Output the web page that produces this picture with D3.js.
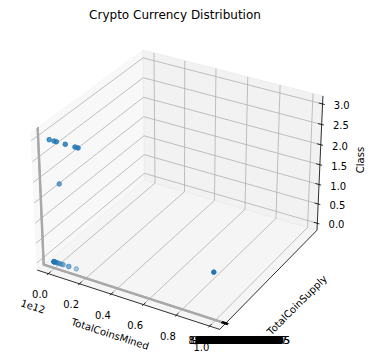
<!DOCTYPE html>
<html><head><meta charset="utf-8">
<script src="https://cdn.jsdelivr.net/npm/d3@7"></script>
<style>body{margin:0;background:#fff} svg{display:block} text{font-family:"DejaVu Sans",sans-serif;fill:#000}</style>
</head><body><svg id="c" width="380" height="356"></svg>
<script>
const title = "Crypto Currency Distribution";
const xLabel = "TotalCoinsMined", yLabel = "TotalCoinSupply", zLabel = "Class";
const xOffsetText = "1e12";

// data (TotalCoinsMined in units of 1e12)
const coinsMined = [0.002,0.032,0.047,0.102,0.162,0.181,
  0.055,
  0,0,0,0,0.001,0.002,0.004,0.006,0.01,0.015,0.02,0.027,0.035,0.045,0.055,0.062,0.096,0.097,0.145,
  0.99];
const coinSupply = [0,0,0,0,0,0,
  0,
  0,0,0,0,0,0,0,0,0,0,0,0,0,0,0,0,0,0,0,
  0];
const classes = [3,3,3,3,3,3,
  2,
  0,0,0,0,0,0,0,0,0,0,0,0,0,0,0,0,0,0,0,
  1];

const xTicks = [0,0.2,0.4,0.6,0.8,1.0];
const xTickLabels = ["0.0","0.2","0.4","0.6","0.8","1.0"];
const yTicks = [0,0.002,0.004,0.006,0.008,0.010,0.012];
const yTickLabels = ["0","42","1000","21000000","84000000","144000000","250000000","1000000000",
  "2147483647","21000000000","92233720368","184467440735","314159265359","1000000000000",
  "2500124000000","90000000000000","922337203685477","1844674407370955","8800000000000005",
  "3000000000.000","1420609614.000","5060000000.000","1000000000.000","4000000000.000",
  "2419200000.000","1600000000.000","3360000000.000","6000000000.000","9507271000.000",
  "7506000000.000","8000000000.000","2100000000.000","1350000000.000","4380000000.000",
  "268435456.0000","500000000.0000","640000000.0000","999481516.0000","888888888.0000",
  "9736000000.00","5121951220.00","2300000000.00","3853326.77707","18898187.6216"];
const zTicks = [0,0.5,1,1.5,2,2.5,3];
const zTickLabels = ["0.0","0.5","1.0","1.5","2.0","2.5","3.0"];

const sx = d3.scaleLinear().domain([-0.0723,1.0596]).range([0,1]);
const sy = d3.scaleLinear().domain([-0.05,0.95]).range([0,1]);
const sz = d3.scaleLinear().domain([-0.1816,3.194]).range([0,1]);

// camera: elev 30, azim -60, perspective
const el = 30*Math.PI/180, az = -60*Math.PI/180;
const boxA = [4,4,3];
const nrm = Math.hypot(...boxA);
const A = boxA.map(v=>v/nrm*1.8294640721620434);
const dot=(a,b)=>a[0]*b[0]+a[1]*b[1]+a[2]*b[2];
const cross=(a,b)=>[a[1]*b[2]-a[2]*b[1],a[2]*b[0]-a[0]*b[2],a[0]*b[1]-a[1]*b[0]];
const W=[Math.cos(el)*Math.cos(az),Math.cos(el)*Math.sin(az),Math.sin(el)];
let U=cross([0,0,1],W); const un=Math.hypot(...U); U=U.map(v=>v/un);
const V=cross(W,U);
const K=1830, CX=179.6, CY=183.3, DIST=10;
function projT(tx,ty,tz){
  const q=[(tx-0.5)*A[0],(ty-0.5)*A[1],(tz-0.5)*A[2]];
  const d=DIST-dot(W,q);
  return [CX+K*dot(U,q)/d, CY-K*dot(V,q)/d, dot(W,q)];
}
const P=(x,y,z)=>projT(sx(x),sy(y),sz(z));

const svg=d3.select("#c");
const line=d3.line();
const pts=arr=>arr.map(p=>projT(...p).slice(0,2));

// panes
const panes=[
  {c:[[0,0,0],[0,1,0],[0,1,1],[0,0,1]], f:"rgba(242,242,242,0.5)"},
  {c:[[0,1,0],[1,1,0],[1,1,1],[0,1,1]], f:"rgba(230,230,230,0.5)"},
  {c:[[0,0,0],[1,0,0],[1,1,0],[0,1,0]], f:"rgba(236,236,236,0.5)"}
];
svg.selectAll("path.pane").data(panes).join("path").attr("class","pane")
  .attr("d",d=>line(pts(d.c))+"Z").attr("fill",d=>d.f).attr("stroke",d=>d.f).attr("stroke-width",1);

const g=svg.append("g").attr("fill","none").attr("stroke","#b0b0b0").attr("stroke-width",0.8);
// x grid
xTicks.forEach(x=>{const t=sx(x); g.append("path").attr("d",line(pts([[t,0,0],[t,1,0],[t,1,1]])));});
// z grid
zTicks.forEach(z=>{const t=sz(z); g.append("path").attr("d",line(pts([[0,0,t],[0,1,t],[1,1,t]])));});
// y grid (bunched)
const gy=svg.append("g").attr("fill","none").attr("stroke","#a8a8a8").attr("stroke-width",0.9);
yTicks.forEach(y=>{const t=sy(y); gy.append("path").attr("d",line(pts([[1,t,0],[0,t,0],[0,t,1]])));});

// axis lines
const ax=svg.append("g").attr("fill","none").attr("stroke","#000").attr("stroke-width",0.8);
ax.append("path").attr("d",line(pts([[0,0,0],[1,0,0]])));
ax.append("path").attr("d",line(pts([[1,0,0],[1,1,0]])));
ax.append("path").attr("d",line(pts([[1,1,0],[1,1,1]])));
// ticks
xTicks.forEach(x=>{const t=sx(x); ax.append("path").attr("d",line(pts([[t,-0.012,0],[t,0.02,0]])));});
yTicks.forEach(y=>{const t=sy(y); ax.append("path").attr("d",line(pts([[1.012,t,0],[0.98,t,0]])));});
zTicks.forEach(z=>{const t=sz(z); ax.append("path").attr("d",line(pts([[1.012,1,t],[0.98,1,t]])));});

// tick labels
xTicks.forEach((x,i)=>{const p=projT(sx(x),0,0);
  svg.append("text").attr("x",p[0]-8.3).attr("y",p[1]+21).attr("text-anchor","middle")
   .attr("dominant-baseline","central").attr("font-size",10).text(xTickLabels[i]);});
const yp=projT(1,sy(yTicks[0]),0);
yTickLabels.forEach(s=>{
  svg.append("text").attr("x",yp[0]+14.3).attr("y",yp[1]+16).attr("text-anchor","middle")
   .attr("dominant-baseline","central").attr("font-size",10).text(s);});
zTicks.forEach((z,i)=>{const p=projT(1,1,sz(z));
  svg.append("text").attr("x",p[0]+19.2).attr("y",p[1]+1.5).attr("text-anchor","middle")
   .attr("dominant-baseline","central").attr("font-size",10).text(zTickLabels[i]);});

// axis labels
svg.append("text").attr("transform","translate(33,306.5) rotate(18)").attr("text-anchor","middle")
  .attr("dominant-baseline","central").attr("font-size",10).text(xOffsetText);
svg.append("text").attr("transform","translate(110,334) rotate(18)").attr("text-anchor","middle")
  .attr("dominant-baseline","central").attr("font-size",10).text(xLabel);
svg.append("text").attr("transform","translate(297,305) rotate(-45)").attr("text-anchor","middle")
  .attr("dominant-baseline","central").attr("font-size",10).text(yLabel);
svg.append("text").attr("transform","translate(360,160) rotate(-90)").attr("text-anchor","middle")
  .attr("dominant-baseline","central").attr("font-size",10).text(zLabel);

// title
svg.append("text").attr("x",175).attr("y",15).attr("text-anchor","middle")
  .attr("dominant-baseline","central").attr("font-size",12).text(title);

// points with depth shading
const data=coinsMined.map((x,i)=>{const p=P(x,coinSupply[i],classes[i]);return {x:p[0],y:p[1],d:p[2]};});
const dmin=d3.min(data,d=>d.d), dmax=d3.max(data,d=>d.d);
data.forEach(d=>{d.a=1-0.7*(dmax-d.d)/(dmax-dmin);});
data.sort((a,b)=>a.d-b.d);
svg.append("g").selectAll("circle").data(data).join("circle")
  .attr("cx",d=>d.x).attr("cy",d=>d.y).attr("r",2.3)
  .attr("fill","#1f77b4").attr("stroke","#1f77b4").attr("stroke-width",1)
  .attr("fill-opacity",d=>d.a).attr("stroke-opacity",d=>d.a);
</script></body></html>
